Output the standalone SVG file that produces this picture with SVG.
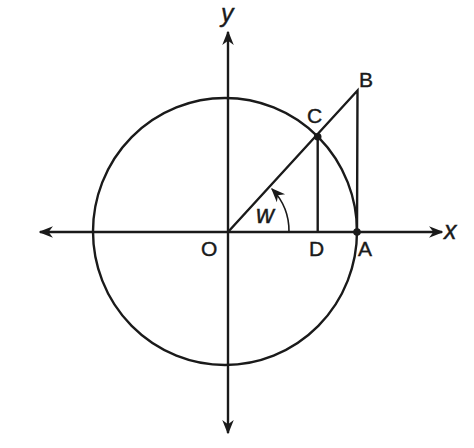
<svg xmlns="http://www.w3.org/2000/svg" width="474" height="448" viewBox="0 0 474 448">
<defs>
<marker id="ah" viewBox="0 0 10 10" refX="9" refY="5" markerWidth="6" markerHeight="6" markerUnits="strokeWidth" orient="auto">
<path d="M0,1 L10,5 L0,9 L3,5 Z" fill="#1a1a1a"/>
</marker>
<marker id="sh" viewBox="0 0 10 10" refX="9" refY="5" markerWidth="9" markerHeight="9" markerUnits="strokeWidth" orient="auto">
<path d="M0,1 L10,5 L0,9 L3,5 Z" fill="#1a1a1a"/>
</marker>
</defs>
<style>
.ln{stroke:#1a1a1a;stroke-width:2.4;fill:none}
.lb{font-family:"Liberation Sans",Arial,sans-serif;fill:#1a1a1a;font-size:21px;stroke:#1a1a1a;stroke-width:0.4}
.it{font-family:"Liberation Sans",Arial,sans-serif;fill:#1a1a1a;font-style:italic;font-size:25px;stroke:#1a1a1a;stroke-width:0.4}
</style>
<rect width="474" height="448" fill="#fff"/>
<g id="connectors">
<line class="ln" x1="228" y1="232" x2="40" y2="232" marker-end="url(#ah)"/>
<line class="ln" x1="228" y1="232" x2="442" y2="232" marker-end="url(#ah)"/>
<line class="ln" x1="228" y1="232" x2="228" y2="32" marker-end="url(#ah)"/>
<line class="ln" x1="228" y1="232" x2="228" y2="433" marker-end="url(#ah)"/>
<ellipse class="ln" cx="225" cy="231.5" rx="132" ry="133.5"/>
<polyline class="ln" points="228,232 357.5,90.5 357,232"/>
<line class="ln" x1="317.7" y1="136.7" x2="317.7" y2="232"/>
<path d="M289,232 A61,61 0 0 0 272,189" stroke="#1a1a1a" stroke-width="1.6" fill="none" marker-end="url(#sh)"/>
</g>
<g id="node-C"><circle cx="317.7" cy="136.7" r="3.8" fill="#1a1a1a"/><text class="lb" x="307" y="123">C</text></g>
<g id="node-A"><circle cx="357" cy="232" r="3.8" fill="#1a1a1a"/><text class="lb" x="358" y="256">A</text></g>
<g id="node-B"><text class="lb" x="359" y="87">B</text></g>
<g id="node-D"><text class="lb" x="309" y="256">D</text></g>
<g id="node-O"><text class="lb" x="201" y="256">O</text></g>
<g id="label-w"><text class="it" x="256" y="223">w</text></g>
<g id="label-x"><text class="it" x="444" y="239">x</text></g>
<g id="label-y"><text class="it" x="221" y="22">y</text></g>
</svg>
